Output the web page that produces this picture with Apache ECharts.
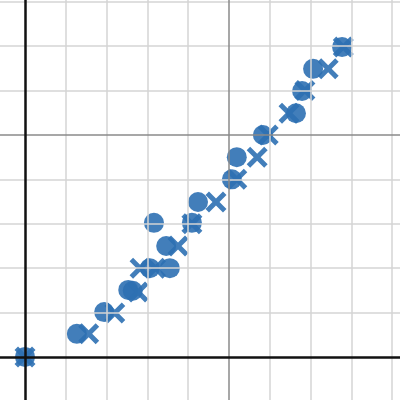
<!DOCTYPE html>
<html>
<head>
<meta charset="UTF-8">
<title>scatter</title>
<script type="text/javascript" src="https://cdn.jsdelivr.net/npm/echarts@6/dist/echarts.min.js"></script>
<style type="text/css">
	body{margin:0;background:#fff;}
	#main{width:400px;height:400px;}
</style>
</head>
<body>
<div id="main"></div>
<script type="text/javascript">
	// 数据
	var circleX = [0, 1.27, 1.94, 2.53, 2.64, 3.06, 3.55, 3.16, 3.46, 4.09, 4.24, 5.07, 5.19, 5.83, 6.64, 6.79, 7.06, 7.77];
	var circleY = [0, 0.52, 1.01, 1.51, 1.49, 2.0, 2.0, 3.02, 2.5, 3.02, 3.49, 4.0, 4.5, 5.0, 5.49, 5.99, 6.49, 6.98];
	var crossX = [0, 1.56, 2.2, 2.77, 2.82, 3.2, 3.75, 4.09, 4.68, 5.19, 5.69, 5.96, 6.47, 6.86, 7.43, 7.8];
	var crossY = [0, 0.52, 0.99, 1.46, 2.0, 2.0, 2.5, 3.0, 3.49, 4.0, 4.5, 5.0, 5.49, 6.0, 6.49, 6.98];
	var gridX = [1, 2, 3, 4, 6, 7, 8, 9];
	var gridY = [-1, 1, 2, 3, 4, 6, 7, 8];

	function pairs(xs, ys){
		var arr = [];
		for(var i = 0;i<xs.length;i++){ arr.push([xs[i], ys[i]]); }
		return arr;
	}

	var lines = [];
	for(var i = 0;i<gridX.length;i++){
		lines.push({xAxis: gridX[i], lineStyle:{color:'#d4d4d4', width:1.5, type:'solid'}});
	}
	for(var i = 0;i<gridY.length;i++){
		lines.push({yAxis: gridY[i], lineStyle:{color:'#d4d4d4', width:1.5, type:'solid'}});
	}
	lines.push({xAxis: 5, lineStyle:{color:'#8a8a8a', width:1.5, type:'solid'}});
	lines.push({yAxis: 5, lineStyle:{color:'#8a8a8a', width:1.5, type:'solid'}});
	lines.push({xAxis: 0, lineStyle:{color:'#111', width:2.5, type:'solid'}});
	lines.push({yAxis: 0, lineStyle:{color:'#111', width:2.5, type:'solid'}});

	var crossPath = 'path://M0,4 L4,0 L12,8 L20,0 L24,4 L16,12 L24,20 L20,24 L12,16 L4,24 L0,20 L8,12 Z';

	var myChart = echarts.init(document.getElementById('main'));
	var option = {
		animation: false,
		grid: {left:0, right:0, top:0, bottom:0},
		xAxis: {type:'value', min:-0.613, max:9.19, show:false},
		yAxis: {type:'value', min:-0.97, max:8.04, show:false},
		series: [{
			type: 'scatter',
			data: [],
			silent: true,
			markLine: {symbol:['none','none'], silent:true, label:{show:false}, data: lines, animation:false}
		},{
			type: 'scatter',
			data: pairs(circleX, circleY),
			symbol: 'circle',
			symbolSize: 20,
			itemStyle: {color:'#2d70b3', opacity:0.9}
		},{
			type: 'scatter',
			data: pairs(crossX, crossY),
			symbol: crossPath,
			symbolSize: 21,
			itemStyle: {color:'#2d70b3', opacity:0.9}
		}]
	};
	myChart.setOption(option);
</script>
</body>
</html>
